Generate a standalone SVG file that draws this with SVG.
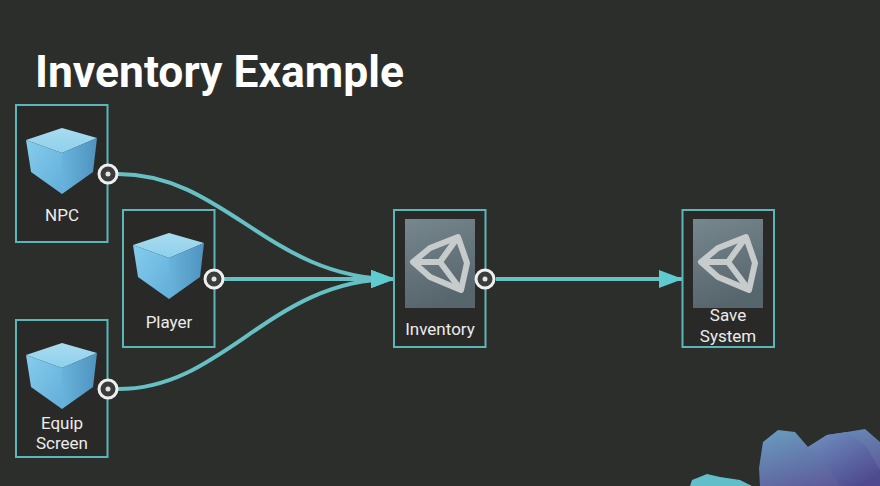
<svg xmlns="http://www.w3.org/2000/svg" width="880" height="486" viewBox="0 0 880 486">
<style>
.box{fill:#292a28;stroke:#5cb6b8;stroke-width:2}
.wire{fill:none;stroke:#66c0c4;stroke-width:4}
.lbl{font-family:Roboto,"Liberation Sans",sans-serif;font-size:17px;fill:#ececec;text-anchor:middle}
.title{font-family:Roboto,"Liberation Sans",sans-serif;font-size:44.400px;font-weight:700;fill:#fff}
.ring{fill:#3a3d3b;stroke:#efefef;stroke-width:3}
.dot{fill:#e4e4e4}
.logo{fill:none;stroke:#c6cbcb;stroke-width:6;stroke-linejoin:round}
</style>
<defs>
<linearGradient id="top" x1="0" y1="0" x2="0" y2="1"><stop offset="0" stop-color="#a8dcf0"/><stop offset="1" stop-color="#8ed0ec"/></linearGradient>
<linearGradient id="left" x1="0" y1="0" x2="1" y2="1"><stop offset="0" stop-color="#86cdec"/><stop offset="1" stop-color="#62aedb"/></linearGradient>
<linearGradient id="right" x1="0" y1="0" x2="1" y2="0"><stop offset="0" stop-color="#68b3dc"/><stop offset="1" stop-color="#4f93bf"/></linearGradient>
<linearGradient id="tile" x1="0" y1="0" x2="0.300" y2="1"><stop offset="0" stop-color="#76878d"/><stop offset="1" stop-color="#57666c"/></linearGradient>
<linearGradient id="blob" x1="0" y1="0" x2="0.600" y2="1"><stop offset="0" stop-color="#6a9fc0"/><stop offset="1" stop-color="#5d5a9a"/></linearGradient>
<linearGradient id="blob2" x1="0" y1="0" x2="0.700" y2="1"><stop offset="0" stop-color="#6f93c0"/><stop offset="1" stop-color="#4f4a90"/></linearGradient>
<g id="cube">
<polygon points="0,-33 35,-23 0,-8 -36,-21" fill="url(#top)"/>
<polygon points="-36,-21 0,-8 0,33 -31,11" fill="url(#left)"/>
<polygon points="35,-23 0,-8 0,33 31,11" fill="url(#right)"/>
</g>
<g id="logo">
<rect x="-35" y="-45" width="70" height="89" fill="url(#tile)"/>
<polygon class="logo" points="-27,-2 -10,-16 18,-27 27,-1 21,26 -10,13"/>
<path class="logo" d="M-27,-2H0L18,-27M0,-2L21,26"/>
</g>
<marker id="arrow" markerUnits="userSpaceOnUse" markerWidth="24" markerHeight="20" refX="23" refY="10" orient="auto"><polygon points="0,1 24,10 0,19" fill="#5fcad0"/></marker>
</defs>
<rect width="880" height="486" fill="#2c2e2b"/>
<text class="title" x="35" y="87">Inventory Example</text>
<g id="decoration">
<path d="M760,486L759,468L763,442L778,430L795,432L808,447L827,435L847,432L865,429L880,442V486Z" fill="url(#blob)"/>
<path d="M808,447L827,435L847,432L865,445L880,470V486H840L825,465Z" fill="url(#blob2)"/>
<path d="M690,486L692,480L707,474L720,477L740,480L752,486Z" fill="#62bfc9"/>
</g>
<g id="connectors">
<path class="wire" d="M118,174C225,174 270,279 394,279" marker-end="url(#arrow)"/>
<path class="wire" d="M224,279H394" marker-end="url(#arrow)"/>
<path class="wire" d="M118,389C225,389 270,279 394,279" marker-end="url(#arrow)"/>
<path class="wire" d="M496,279H682" marker-end="url(#arrow)"/>
</g>
<g id="npc">
<rect class="box" x="16" y="105" width="91.500" height="137"/>
<use href="#cube" x="62" y="161"/>
<text class="lbl" x="62" y="221">NPC</text>
<circle class="ring" cx="108" cy="174" r="9"/><circle class="dot" cx="108" cy="174" r="2.500"/>
</g>
<g id="player">
<rect class="box" x="123" y="210" width="91.500" height="137"/>
<use href="#cube" x="169" y="266"/>
<text class="lbl" x="169" y="328">Player</text>
<circle class="ring" cx="214" cy="279" r="9"/><circle class="dot" cx="214" cy="279" r="2.500"/>
</g>
<g id="equip-screen">
<rect class="box" x="16" y="320" width="91.500" height="137"/>
<use href="#cube" x="62" y="376"/>
<text class="lbl" x="62" y="429">Equip</text>
<text class="lbl" x="62" y="449">Screen</text>
<circle class="ring" cx="108" cy="389" r="9"/><circle class="dot" cx="108" cy="389" r="2.500"/>
</g>
<g id="inventory">
<rect class="box" x="394" y="210" width="91.500" height="137"/>
<use href="#logo" x="440" y="264"/>
<text class="lbl" x="440" y="335">Inventory</text>
<circle class="ring" cx="485" cy="279" r="9"/><circle class="dot" cx="485" cy="279" r="2.500"/>
</g>
<g id="save-system">
<rect class="box" x="682.500" y="210" width="91.500" height="137"/>
<use href="#logo" x="728" y="264"/>
<text class="lbl" x="728" y="321">Save</text>
<text class="lbl" x="728" y="342">System</text>
</g>
</svg>
